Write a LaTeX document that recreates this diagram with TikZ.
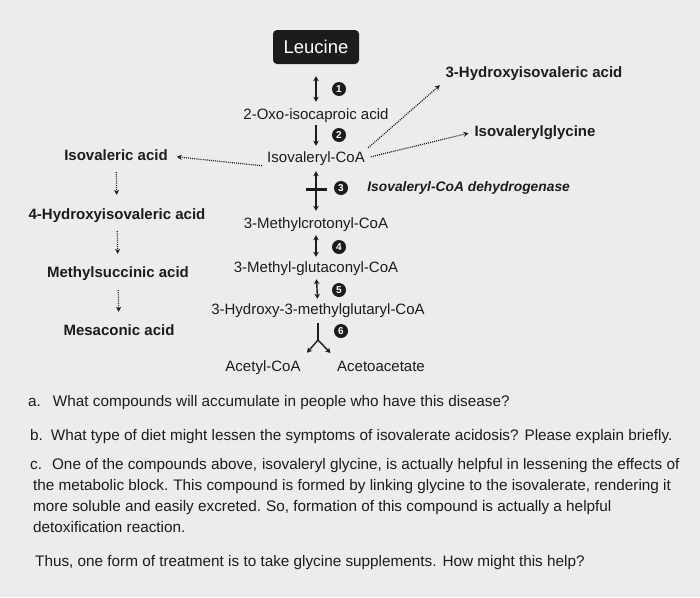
\documentclass[tikz,border=0pt]{standalone}
\usepackage{fontspec}
\setmainfont{Liberation Sans}
\usetikzlibrary{arrows.meta,positioning,calc}

\definecolor{screen}{RGB}{236,236,237}
\definecolor{ink}{RGB}{28,28,30}

\tikzset{
    compound/.style={inner sep=1pt, text=ink, text height=11pt, text depth=3pt},
    side/.style={inner sep=1pt, text=ink, text height=11pt, text depth=3pt, font=\fontsize{15}{17}\selectfont\bfseries},
    enzyme/.style={inner sep=1pt, text=ink, font=\fontsize{13.8}{16}\selectfont\bfseries\itshape},
    leubox/.style={rectangle, rounded corners=4pt, fill=ink, text=white, minimum width=86pt, minimum height=34pt, font=\fontsize{18.5}{20}\selectfont},
    num/.style={circle, fill=ink, text=white, inner sep=0pt, minimum size=14pt, font=\fontsize{10}{10}\selectfont\bfseries},
    rev/.style={{Stealth[length=5pt,width=5.5pt,inset=1.5pt]}-{Stealth[length=5pt,width=5.5pt,inset=1.5pt]}, line width=1.4pt, draw=ink},
    fwd/.style={-{Stealth[length=5pt,width=5.5pt,inset=1.5pt]}, line width=1.4pt, draw=ink},
    minor/.style={-{Stealth[length=5pt,width=5pt,inset=1.5pt]}, line width=1.2pt, draw=ink, dash pattern=on 1pt off 1.1pt},
    question/.style={inner sep=0pt, anchor=base west, text=ink, font=\fontsize{15.3}{21}\selectfont}
}

\begin{document}
\begin{tikzpicture}[x=1pt, y=-1pt, font=\fontsize{15}{17}\selectfont]
    \fill[screen] (0,0) rectangle (700,597);
    \useasboundingbox (0,0) rectangle (700,597);

    % Main pathway
    \node[leubox] (leu) at (316,47) {Leucine};
    \node[compound] (oxo) at (316,115) {2-Oxo-isocaproic acid};
    \node[compound] (ivcoa) at (316,158) {Isovaleryl-CoA};
    \node[compound] (mcc) at (316,224) {3-Methylcrotonyl-CoA};
    \node[compound] (mgc) at (316,268) {3-Methyl-glutaconyl-CoA};
    \node[compound] (hmg) at (318,310) {3-Hydroxy-3-methylglutaryl-CoA};
    \coordinate (split) at (318,340);
    \node[compound] (acet) at (263,367) {Acetyl-CoA};
    \node[compound] (acac) at (381,367) {Acetoacetate};

    % Step numbers
    \node[num] (n1) at (339,89) {1};
    \node[num] (n2) at (339,135) {2};
    \node[num] (n3) at (341,188) {3};
    \node[num] (n4) at (339,247) {4};
    \node[num] (n5) at (339,290) {5};
    \node[num] (n6) at (341,331) {6};
    \node[enzyme, right=18pt of n3] (ivd) {Isovaleryl-CoA dehydrogenase};

    % Side products
    \node[side] (hiva) at (534,73) {3-Hydroxyisovaleric acid};
    \node[side] (ivgly) at (535,132) {Isovalerylglycine};
    \node[side] (iva) at (116,156) {Isovaleric acid};
    \node[side] (hydiva) at (117,215) {4-Hydroxyisovaleric acid};
    \node[side] (msa) at (118,273) {Methylsuccinic acid};
    \node[side] (mesa) at (119,331) {Mesaconic acid};

    % Connections
    \draw[rev, shorten <=12pt, shorten >=5pt] (leu) -- (oxo);
    \draw[fwd, shorten <=2pt, shorten >=4pt] (oxo) -- (ivcoa);
    \draw[rev, shorten <=5pt, shorten >=5pt] (ivcoa) -- (mcc);
    \draw[line width=3pt, draw=ink] ($(ivcoa.south)!0.5!(mcc.north)+(-10,-2)$) -- ++(21,0);
    \draw[rev, shorten <=3pt, shorten >=3pt] (mcc) -- (mgc);
    \draw[rev, shorten <=3pt, shorten >=3pt] (mgc) -- (hmg);
    \draw[line width=1.4pt, draw=ink, shorten <=5pt] (hmg) -- (split);
    \draw[fwd, shorten >=8pt] (split) -- (acet.north east);
    \draw[fwd, shorten >=8pt] (split) -- (acac.north west);

    \draw[minor, shorten <=3pt, shorten >=6pt] (ivcoa.north east) -- (hiva.south west);
    \draw[minor, shorten <=5pt, shorten >=5pt] (ivcoa.east) -- (ivgly.west);
    \draw[minor, shorten <=4pt, shorten >=8pt] (ivcoa.south west) -- (iva.east);
    \draw[minor, shorten <=8pt, shorten >=12pt] (iva) -- (hydiva);
    \draw[minor, shorten <=8pt, shorten >=11pt] (hydiva) -- (msa);
    \draw[minor, shorten <=9pt, shorten >=11pt] (msa) -- (mesa);

    % Questions
    \node[question] (qa) at (28,406) {a.\hspace{12pt}What compounds will accumulate in people who have this disease?};
    \node[question] (qb) at (30,440) {b.\hspace{8pt}What type of diet might lessen the symptoms of isovalerate acidosis?\hspace{6pt}Please explain briefly.};
    \node[question] (qc1) at (30,469) {c.\hspace{10pt}One of the compounds above,\hspace{5pt}isovaleryl glycine, is actually helpful in lessening the effects of};
    \node[question] (qc2) at (33,490) {the metabolic block.\hspace{5pt}This compound is formed by linking glycine to the isovalerate, rendering it};
    \node[question] (qc3) at (33,511) {more soluble and easily excreted.\hspace{5pt}So, formation of this compound is actually a helpful};
    \node[question] (qc4) at (33,532) {detoxification reaction.};
    \node[question] (qd) at (35,566) {Thus, one form of treatment is to take glycine supplements.\hspace{6pt}How might this help?};
\end{tikzpicture}
\end{document}
